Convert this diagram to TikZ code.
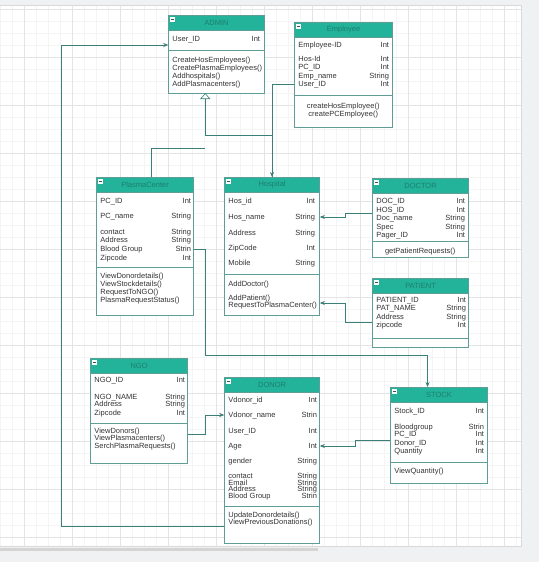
\documentclass[tikz,border=0pt]{standalone}
\usepackage{fontspec}
\setmainfont{Liberation Sans}
\usetikzlibrary{arrows.meta,positioning}
\definecolor{teal1}{HTML}{22B39A}
\definecolor{tealtext}{HTML}{1E7F70}
\definecolor{boxline}{HTML}{5E9E96}
\definecolor{wire}{HTML}{3A7F78}
\definecolor{txt}{HTML}{333333}
\definecolor{gridmin}{HTML}{F4F4F4}
\definecolor{gridmaj}{HTML}{E4E4E4}
\definecolor{pagebg}{HTML}{F0F1F2}
\newcommand\umlfont{\fontsize{7.5}{8}\selectfont}

\begin{document}
\begin{tikzpicture}[x=1pt, y=-1pt,
    cls/.style = {draw=boxline, fill=white, anchor=north west, inner sep=0pt, line width=0.6pt},
    hdr/.style = {draw=boxline, fill=teal1, text=tealtext, anchor=north west, inner sep=0pt, minimum height=15pt, font=\umlfont, line width=0.6pt},
    icon/.style = {fill=white, minimum size=5pt, inner sep=0pt, text=black!70},
    attr/.style = {anchor=west, inner sep=0pt, text=txt, font=\umlfont, text height=5.5pt, text depth=1.5pt},
    typ/.style = {attr, anchor=east},
    meth/.style = {attr},
    divline/.style = {draw=boxline, line width=0.6pt},
    link/.style = {draw=wire, line width=0.6pt, -{Stealth[length=5pt,width=4pt]}},
    isa/.style = {draw=wire, line width=0.6pt, -{Triangle[length=6pt,width=10pt,fill=white]}}]

% canvas
\fill[pagebg] (0,0) rectangle (539,562);
\fill[white] (0,5) rectangle (521,546);
\foreach \x in {0,12,...,516} \draw[gridmin, line width=0.4pt] (\x,5) -- (\x,546);
\foreach \y in {9,21,...,545} \draw[gridmin, line width=0.4pt] (0,\y) -- (521,\y);
\foreach \x in {24,72,...,504} \draw[gridmaj, line width=0.5pt] (\x,5) -- (\x,546);
\foreach \y in {9,57,...,537} \draw[gridmaj, line width=0.5pt] (0,\y) -- (521,\y);
\draw[black!15] (0,5) -- (521,5) -- (521,546) -- (0,546);
\fill[black!17] (0,547.5) rectangle (318,550.5);

% ADMIN
\node[cls, minimum width=96pt, minimum height=78pt] (adm) at (168,15) {};
\node[hdr, minimum width=96pt] (adm-h) at (168,15) {ADMIN};
\node[icon] (adm-i) at (172.5,19.5) {\rule{3pt}{0.6pt}};
\node[attr] (adm-a1) at (172,39) {User\_ID};
\node[typ] (adm-t1) at (260,39) {Int};
\draw[divline] (168,50) -- (264,50);
\foreach \m/\y [count=\i] in {{CreateHosEmployees()}/60, {CreatePlasmaEmployees()}/68, {Addhospitals()}/76, {AddPlasmacenters()}/84}
  \node[meth] (adm-m\i) at (172,\y) {\m};

% Employee
\node[cls, minimum width=98pt, minimum height=105pt] (emp) at (294,22) {};
\node[hdr, minimum width=98pt] (emp-h) at (294,22) {Employee};
\node[icon] (emp-i) at (298.5,26.5) {\rule{3pt}{0.6pt}};
\foreach \a/\t/\y [count=\i] in {Employee-ID/Int/45, Hos-Id/Int/59, PC\_ID/Int/67, Emp\_name/String/76, User\_ID/Int/84} {
  \node[attr] (emp-a\i) at (298,\y) {\a};
  \node[typ] (emp-t\i) at (389,\y) {\t};
}
\draw[divline] (294,95) -- (392,95);
\node[meth, anchor=center] (emp-m1) at (343,106) {createHosEmployee()};
\node[meth, anchor=center] (emp-m2) at (343,114) {createPCEmployee()};

% PlasmaCenter
\node[cls, minimum width=97pt, minimum height=138pt] (pc) at (96,177) {};
\node[hdr, minimum width=97pt] (pc-h) at (96,177) {PlasmaCenter};
\node[icon] (pc-i) at (100.5,181.5) {\rule{3pt}{0.6pt}};
\foreach \a/\t/\y [count=\i] in {PC\_ID/Int/201, PC\_name/String/216, contact/String/232, Address/String/240, Blood Group/Strin/249, Zipcode/Int/258} {
  \node[attr] (pc-a\i) at (100,\y) {\a};
  \node[typ] (pc-t\i) at (191,\y) {\t};
}
\draw[divline] (96,267) -- (193,267);
\foreach \m/\y [count=\i] in {{ViewDonordetails()}/276, {ViewStockdetails()}/284, {RequestToNGO()}/292, {PlasmaRequestStatus()}/300}
  \node[meth] (pc-m\i) at (100,\y) {\m};

% Hospital
\node[cls, minimum width=95pt, minimum height=138pt] (hosp) at (224,177) {};
\node[hdr, minimum width=95pt] (hosp-h) at (224,177) {Hospital};
\node[icon] (hosp-i) at (228.5,181.5) {\rule{3pt}{0.6pt}};
\foreach \a/\t/\y [count=\i] in {Hos\_id/Int/201, Hos\_name/String/217, Address/String/233, ZipCode/Int/248, Mobile/String/263} {
  \node[attr] (hosp-a\i) at (228,\y) {\a};
  \node[typ] (hosp-t\i) at (315,\y) {\t};
}
\draw[divline] (224,274) -- (319,274);
\foreach \m/\y [count=\i] in {{AddDoctor()}/284, {AddPatient()}/298, {RequestToPlasmaCenter()}/305}
  \node[meth] (hosp-m\i) at (228,\y) {\m};

% DOCTOR
\node[cls, minimum width=96pt, minimum height=79pt] (doc) at (372,178) {};
\node[hdr, minimum width=96pt] (doc-h) at (372,178) {DOCTOR};
\node[icon] (doc-i) at (376.5,182.5) {\rule{3pt}{0.6pt}};
\foreach \a/\t/\y [count=\i] in {DOC\_ID/Int/201, HOS\_ID/Int/210, Doc\_name/String/218, Spec/String/227, Pager\_ID/Int/235} {
  \node[attr] (doc-a\i) at (376,\y) {\a};
  \node[typ] (doc-t\i) at (465,\y) {\t};
}
\draw[divline] (372,241) -- (468,241);
\node[meth, anchor=center] (doc-m1) at (420,251) {getPatientRequests()};

% PATIENT
\node[cls, minimum width=96pt, minimum height=69pt] (pat) at (372,278) {};
\node[hdr, minimum width=96pt] (pat-h) at (372,278) {PATIENT};
\node[icon] (pat-i) at (376.5,282.5) {\rule{3pt}{0.6pt}};
\foreach \a/\t/\y [count=\i] in {PATIENT\_ID/Int/300, PAT\_NAME/String/308, Address/String/317, zipcode/Int/325} {
  \node[attr] (pat-a\i) at (376,\y) {\a};
  \node[typ] (pat-t\i) at (466,\y) {\t};
}
\draw[divline] (372,338) -- (468,338);

% NGO
\node[cls, minimum width=97pt, minimum height=105pt] (ngo) at (90,358) {};
\node[hdr, minimum width=97pt] (ngo-h) at (90,358) {NGO};
\node[icon] (ngo-i) at (94.5,362.5) {\rule{3pt}{0.6pt}};
\foreach \a/\t/\y [count=\i] in {NGO\_ID/Int/380, NGO\_NAME/String/397, Address/String/404, Zipcode/Int/413} {
  \node[attr] (ngo-a\i) at (94,\y) {\a};
  \node[typ] (ngo-t\i) at (185,\y) {\t};
}
\draw[divline] (90,423) -- (187,423);
\foreach \m/\y [count=\i] in {{ViewDonors()}/431, {ViewPlasmacenters()}/438, {SerchPlasmaRequests()}/446}
  \node[meth] (ngo-m\i) at (94,\y) {\m};

% DONOR
\node[cls, minimum width=95pt, minimum height=166pt] (dn) at (224,377) {};
\node[hdr, minimum width=95pt] (dn-h) at (224,377) {DONOR};
\node[icon] (dn-i) at (228.5,381.5) {\rule{3pt}{0.6pt}};
\foreach \a/\t/\y [count=\i] in {Vdonor\_id/Int/400, Vdonor\_name/Strin/415, User\_ID/Int/431, Age/Int/446, gender/String/461, contact/String/476, Email/String/483, Address/String/489, Blood Group/Strin/496} {
  \node[attr] (dn-a\i) at (228,\y) {\a};
  \node[typ] (dn-t\i) at (317,\y) {\t};
}
\draw[divline] (224,506) -- (319,506);
\foreach \m/\y [count=\i] in {{UpdateDonordetails()}/515, {ViewPreviousDonations()}/522}
  \node[meth] (dn-m\i) at (228,\y) {\m};

% STOCK
\node[cls, minimum width=97pt, minimum height=96pt] (stock) at (390,387) {};
\node[hdr, minimum width=97pt] (stock-h) at (390,387) {STOCK};
\node[icon] (stock-i) at (394.5,391.5) {\rule{3pt}{0.6pt}};
\foreach \a/\t/\y [count=\i] in {Stock\_ID/Int/411, Bloodgroup/Strin/427, PC\_ID/Int/434, Donor\_ID/Int/443, Quantity/Int/451} {
  \node[attr] (stock-a\i) at (394,\y) {\a};
  \node[typ] (stock-t\i) at (484,\y) {\t};
}
\draw[divline] (390,462) -- (487,462);
\node[meth] (stock-m1) at (394,471) {ViewQuantity()};

% connectors
\draw[isa] (hosp.north) |- (205,135) -- (205,93);
\draw[wire, line width=0.6pt] ([xshift=6pt]pc.north) |- (205,148);
\draw[link] (emp.west |- emp-a5) -| (hosp.north);
\draw[link] ([yshift=17pt]dn.south west) -| (61,45) -- ([yshift=-30pt]adm.north west);
\draw[link] (pc.east |- pc-t5) -| (205,355) -| ([xshift=-11.5pt]stock.north);
\draw[link] ([yshift=-35pt]doc.north west) -| (345,217) -- (hosp.east |- hosp-t2);
\draw[link] ([yshift=-44pt]pat.north west) -| (345,303) -- ([yshift=-126pt]hosp.north east);
\draw[link] ([yshift=-76pt]ngo.north east) -| (205,415) -- (dn.west |- dn-a2);
\draw[link] ([yshift=-53pt]stock.north west) -| (355,446) -- (dn.east |- dn-t4);
\end{tikzpicture}
\end{document}
